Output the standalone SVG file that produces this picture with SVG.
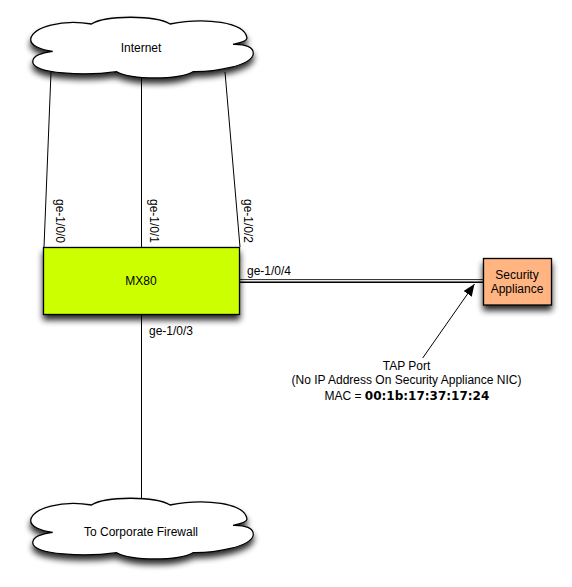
<svg xmlns="http://www.w3.org/2000/svg" xmlns:xlink="http://www.w3.org/1999/xlink" width="572" height="587" viewBox="0 0 572 587">
<style>
text{font-family:"Liberation Sans",Arial,sans-serif;font-size:12px;fill:#000}
.m{text-anchor:middle}
.n{stroke:#000;stroke-width:1.3}
.c{stroke:#000;stroke-width:1;fill:none}
</style>
<defs>
<filter id="s" x="-15%" y="-20%" width="130%" height="150%"><feGaussianBlur in="SourceAlpha" stdDeviation="3"/><feOffset dx="0" dy="5"/><feComponentTransfer><feFuncA type="linear" slope="0.85"/></feComponentTransfer><feMerge><feMergeNode/><feMergeNode in="SourceGraphic"/></feMerge></filter>
<path id="cloud" d="M91.5 24C106 15 155 15 170 24C205 17 245 22 247 38C247 41 240 43 233 44.3C245 44 254 47 253.3 54C251 66 215 72 193 71.7C178 80 132 80 116.7 71.7C85 76 34 74 32.7 61.7C33 55 42 53 52.7 51.3C42 50 30 46 30.7 39C33 27 62 19 91.5 24Z" fill="#fff" class="n"/>
<marker id="a" markerWidth="16" markerHeight="16" refX="12" refY="5" orient="auto" markerUnits="userSpaceOnUse"><path d="M0 0L12 5L0 10Z" fill="#000"/></marker>
</defs>
<g id="connectors">
<path class="c" d="M51 72L44 247M141.5 78V247M225 72L240 247M141.5 314V502"/>
<path d="M238.5 281H484" stroke="#000" stroke-width="3.8" stroke-linecap="round" fill="none"/>
<path d="M238.5 280.7H484" stroke="#e8e8e8" stroke-width="1.8" stroke-linecap="round" fill="none"/>
<path class="c" d="M422.7 358L474.5 284" marker-end="url(#a)"/>
</g>
<g id="internet"><use xlink:href="#cloud" href="#cloud" filter="url(#s)"/><text class="m" x="141" y="52">Internet</text></g>
<g id="firewall"><use xlink:href="#cloud" href="#cloud" y="481" filter="url(#s)"/><text class="m" x="141" y="536">To Corporate Firewall</text></g>
<g id="mx80"><rect class="n" x="43.5" y="247.5" width="196" height="67" fill="#ccff00" filter="url(#s)"/><text class="m" x="141" y="285">MX80</text></g>
<g id="security"><rect class="n" x="483.5" y="258.5" width="68" height="46.5" fill="#ffb482" filter="url(#s)"/><text class="m" x="517" y="279">Security</text><text class="m" x="517" y="293">Appliance</text></g>
<g id="labels">
<text transform="translate(56 199) rotate(90)">ge-1/0/0</text>
<text transform="translate(150 199) rotate(90)">ge-1/0/1</text>
<text transform="translate(244 199) rotate(90)">ge-1/0/2</text>
<text x="247" y="275">ge-1/0/4</text>
<text x="149" y="335">ge-1/0/3</text>
<text class="m" x="406.5" y="370">TAP Port</text>
<text class="m" x="406.5" y="384">(No IP Address On Security Appliance NIC)</text>
<text x="324.5" y="400">MAC = <tspan font-family="DejaVu Sans" font-weight="bold" font-size="12">00:1b:17:37:17:24</tspan></text>
</g>
</svg>
